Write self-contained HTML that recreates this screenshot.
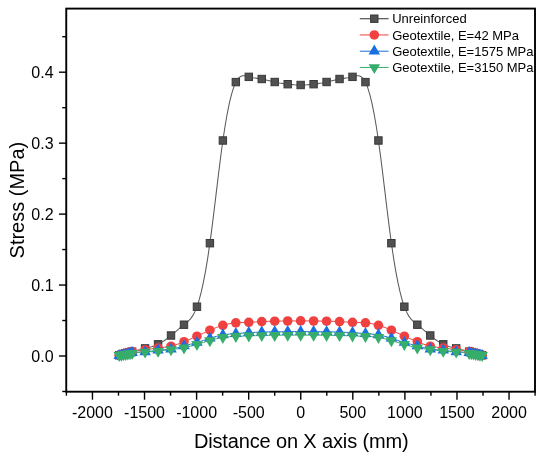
<!DOCTYPE html>
<html><head><meta charset="utf-8"><title>Stress vs Distance</title>
<style>
html,body{margin:0;padding:0;background:#fff;width:550px;height:459px;overflow:hidden}
svg{display:block}
text{font-family:"Liberation Sans",Arial,sans-serif;fill:#000}
.tk{font-size:16px}
.ti{font-size:20px}
.tx{letter-spacing:-0.14px}
.lg{font-size:13px}
</style></head><body>
<svg width="550" height="459" viewBox="0 0 550 459">
<rect width="550" height="459" fill="#fff"/>
<path d="M119.17,355.30 L120.26,355.00 L121.34,354.70 L122.42,354.40 L123.50,354.10 L124.58,353.80 L125.66,353.50 L126.74,353.20 L127.82,352.90 L128.90,352.60 L129.98,352.30 L131.06,352.00 L132.14,351.70 L134.30,351.11 L136.46,350.55 L138.62,349.99 L140.78,349.45 L142.94,348.92 L145.10,348.40 L147.26,347.88 L149.42,347.34 L151.58,346.74 L153.74,346.06 L155.90,345.26 L158.06,344.30 L160.22,343.17 L162.38,341.88 L164.54,340.45 L166.70,338.89 L168.86,337.24 L171.02,335.50 L173.19,333.71 L175.35,331.88 L177.51,330.04 L179.67,328.21 L181.83,326.42 L183.99,324.70 L186.15,323.01 L188.31,321.15 L190.47,318.85 L192.63,315.85 L194.79,311.89 L196.95,306.70 L199.11,300.06 L201.27,291.89 L203.43,282.16 L205.59,270.83 L207.75,257.85 L209.91,243.20 L212.07,226.93 L214.23,209.54 L216.39,191.61 L218.55,173.73 L220.71,156.50 L222.87,140.50 L225.04,126.23 L227.20,113.78 L229.36,103.14 L231.52,94.32 L233.68,87.31 L235.84,82.10 L238.00,78.64 L240.16,76.64 L242.32,75.79 L244.48,75.76 L246.64,76.23 L248.80,76.85 L250.96,77.37 L253.12,77.77 L255.28,78.09 L257.44,78.38 L259.60,78.67 L261.76,79.00 L263.92,79.41 L266.08,79.89 L268.24,80.41 L270.40,80.95 L272.56,81.49 L274.72,82.00 L276.89,82.47 L279.05,82.90 L281.21,83.28 L283.37,83.63 L285.53,83.93 L287.69,84.20 L289.85,84.43 L292.01,84.63 L294.17,84.79 L296.33,84.90 L298.49,84.98 L300.65,85.00 L302.81,84.98 L304.97,84.90 L307.13,84.79 L309.29,84.63 L311.45,84.43 L313.61,84.20 L315.77,83.93 L317.93,83.63 L320.09,83.28 L322.25,82.90 L324.41,82.47 L326.57,82.00 L328.74,81.49 L330.90,80.95 L333.06,80.41 L335.22,79.89 L337.38,79.41 L339.54,79.00 L341.70,78.67 L343.86,78.38 L346.02,78.09 L348.18,77.77 L350.34,77.37 L352.50,76.85 L354.66,76.23 L356.82,75.76 L358.98,75.79 L361.14,76.64 L363.30,78.64 L365.46,82.10 L367.62,87.31 L369.78,94.32 L371.94,103.14 L374.10,113.78 L376.26,126.23 L378.42,140.50 L380.59,156.50 L382.75,173.73 L384.91,191.61 L387.07,209.54 L389.23,226.93 L391.39,243.20 L393.55,257.85 L395.71,270.83 L397.87,282.16 L400.03,291.89 L402.19,300.06 L404.35,306.70 L406.51,311.89 L408.67,315.85 L410.83,318.85 L412.99,321.15 L415.15,323.01 L417.31,324.70 L419.47,326.42 L421.63,328.21 L423.79,330.04 L425.95,331.88 L428.11,333.71 L430.27,335.50 L432.44,337.24 L434.60,338.89 L436.76,340.45 L438.92,341.88 L441.08,343.17 L443.24,344.30 L445.40,345.26 L447.56,346.06 L449.72,346.74 L451.88,347.34 L454.04,347.88 L456.20,348.40 L458.36,348.92 L460.52,349.45 L462.68,349.99 L464.84,350.55 L467.00,351.11 L469.16,351.70 L470.24,352.00 L471.32,352.30 L472.40,352.60 L473.48,352.90 L474.56,353.20 L475.64,353.50 L476.72,353.80 L477.80,354.10 L478.88,354.40 L479.96,354.70 L481.04,355.00 L482.12,355.30" fill="none" stroke="#5a5a5a" stroke-width="1.05"/><path d="M119.17,355.30 L120.26,354.98 L121.34,354.67 L122.42,354.35 L123.50,354.03 L124.58,353.72 L125.66,353.40 L126.74,353.08 L127.82,352.77 L128.90,352.45 L129.98,352.13 L131.06,351.81 L132.14,351.50 L134.30,350.99 L136.46,350.61 L138.62,350.33 L140.78,350.11 L142.94,349.91 L145.10,349.70 L147.26,349.45 L149.42,349.17 L151.58,348.87 L153.74,348.57 L155.90,348.27 L158.06,348.00 L160.22,347.76 L162.38,347.53 L164.54,347.29 L166.70,347.00 L168.86,346.65 L171.02,346.20 L173.19,345.64 L175.35,344.98 L177.51,344.23 L179.67,343.42 L181.83,342.57 L183.99,341.70 L186.15,340.82 L188.31,339.93 L190.47,339.02 L192.63,338.10 L194.79,337.16 L196.95,336.20 L199.11,335.21 L201.27,334.20 L203.43,333.19 L205.59,332.17 L207.75,331.17 L209.91,330.20 L212.07,329.26 L214.23,328.36 L216.39,327.51 L218.55,326.71 L220.71,325.97 L222.87,325.30 L225.04,324.70 L227.20,324.17 L229.36,323.72 L231.52,323.34 L233.68,323.03 L235.84,322.80 L238.00,322.64 L240.16,322.53 L242.32,322.46 L244.48,322.41 L246.64,322.36 L248.80,322.30 L250.96,322.21 L253.12,322.10 L255.28,321.98 L257.44,321.85 L259.60,321.72 L261.76,321.60 L263.92,321.50 L266.08,321.42 L268.24,321.35 L270.40,321.29 L272.56,321.24 L274.72,321.20 L276.89,321.16 L279.05,321.12 L281.21,321.09 L283.37,321.06 L285.53,321.03 L287.69,321.00 L289.85,320.97 L292.01,320.95 L294.17,320.93 L296.33,320.91 L298.49,320.90 L300.65,320.90 L302.81,320.90 L304.97,320.91 L307.13,320.93 L309.29,320.95 L311.45,320.97 L313.61,321.00 L315.77,321.03 L317.93,321.06 L320.09,321.09 L322.25,321.12 L324.41,321.16 L326.57,321.20 L328.74,321.24 L330.90,321.29 L333.06,321.35 L335.22,321.42 L337.38,321.50 L339.54,321.60 L341.70,321.72 L343.86,321.85 L346.02,321.98 L348.18,322.10 L350.34,322.21 L352.50,322.30 L354.66,322.36 L356.82,322.41 L358.98,322.46 L361.14,322.53 L363.30,322.64 L365.46,322.80 L367.62,323.03 L369.78,323.34 L371.94,323.72 L374.10,324.17 L376.26,324.70 L378.42,325.30 L380.59,325.97 L382.75,326.71 L384.91,327.51 L387.07,328.36 L389.23,329.26 L391.39,330.20 L393.55,331.17 L395.71,332.17 L397.87,333.19 L400.03,334.20 L402.19,335.21 L404.35,336.20 L406.51,337.16 L408.67,338.10 L410.83,339.02 L412.99,339.93 L415.15,340.82 L417.31,341.70 L419.47,342.57 L421.63,343.42 L423.79,344.23 L425.95,344.98 L428.11,345.64 L430.27,346.20 L432.44,346.65 L434.60,347.00 L436.76,347.29 L438.92,347.53 L441.08,347.76 L443.24,348.00 L445.40,348.27 L447.56,348.57 L449.72,348.87 L451.88,349.17 L454.04,349.45 L456.20,349.70 L458.36,349.91 L460.52,350.11 L462.68,350.33 L464.84,350.61 L467.00,350.99 L469.16,351.50 L470.24,351.81 L471.32,352.13 L472.40,352.45 L473.48,352.77 L474.56,353.08 L475.64,353.40 L476.72,353.72 L477.80,354.03 L478.88,354.35 L479.96,354.67 L481.04,354.98 L482.12,355.30" fill="none" stroke="#F14040" stroke-width="1.0"/><path d="M119.17,355.60 L120.26,355.36 L121.34,355.12 L122.42,354.87 L123.50,354.63 L124.58,354.39 L125.66,354.15 L126.74,353.91 L127.82,353.67 L128.90,353.43 L129.98,353.18 L131.06,352.93 L132.14,352.70 L134.30,352.37 L136.46,352.18 L138.62,352.09 L140.78,352.05 L142.94,352.00 L145.10,351.90 L147.26,351.70 L149.42,351.43 L151.58,351.11 L153.74,350.78 L155.90,350.46 L158.06,350.20 L160.22,350.01 L162.38,349.86 L164.54,349.73 L166.70,349.58 L168.86,349.38 L171.02,349.10 L173.19,348.71 L175.35,348.23 L177.51,347.69 L179.67,347.10 L181.83,346.50 L183.99,345.90 L186.15,345.33 L188.31,344.78 L190.47,344.23 L192.63,343.68 L194.79,343.11 L196.95,342.50 L199.11,341.85 L201.27,341.16 L203.43,340.45 L205.59,339.73 L207.75,339.01 L209.91,338.30 L212.07,337.62 L214.23,336.96 L216.39,336.36 L218.55,335.81 L220.71,335.32 L222.87,334.90 L225.04,334.56 L227.20,334.29 L229.36,334.08 L231.52,333.90 L233.68,333.75 L235.84,333.60 L238.00,333.45 L240.16,333.29 L242.32,333.14 L244.48,332.99 L246.64,332.84 L248.80,332.70 L250.96,332.57 L253.12,332.46 L255.28,332.36 L257.44,332.26 L259.60,332.18 L261.76,332.10 L263.92,332.03 L266.08,331.97 L268.24,331.92 L270.40,331.87 L272.56,331.83 L274.72,331.80 L276.89,331.78 L279.05,331.76 L281.21,331.74 L283.37,331.73 L285.53,331.72 L287.69,331.70 L289.85,331.68 L292.01,331.66 L294.17,331.64 L296.33,331.62 L298.49,331.60 L300.65,331.60 L302.81,331.60 L304.97,331.62 L307.13,331.64 L309.29,331.66 L311.45,331.68 L313.61,331.70 L315.77,331.72 L317.93,331.73 L320.09,331.74 L322.25,331.76 L324.41,331.78 L326.57,331.80 L328.74,331.83 L330.90,331.87 L333.06,331.92 L335.22,331.97 L337.38,332.03 L339.54,332.10 L341.70,332.18 L343.86,332.26 L346.02,332.36 L348.18,332.46 L350.34,332.57 L352.50,332.70 L354.66,332.84 L356.82,332.99 L358.98,333.14 L361.14,333.29 L363.30,333.45 L365.46,333.60 L367.62,333.75 L369.78,333.90 L371.94,334.08 L374.10,334.29 L376.26,334.56 L378.42,334.90 L380.59,335.32 L382.75,335.81 L384.91,336.36 L387.07,336.96 L389.23,337.62 L391.39,338.30 L393.55,339.01 L395.71,339.73 L397.87,340.45 L400.03,341.16 L402.19,341.85 L404.35,342.50 L406.51,343.11 L408.67,343.68 L410.83,344.23 L412.99,344.78 L415.15,345.33 L417.31,345.90 L419.47,346.50 L421.63,347.10 L423.79,347.69 L425.95,348.23 L428.11,348.71 L430.27,349.10 L432.44,349.38 L434.60,349.58 L436.76,349.73 L438.92,349.86 L441.08,350.01 L443.24,350.20 L445.40,350.46 L447.56,350.78 L449.72,351.11 L451.88,351.43 L454.04,351.70 L456.20,351.90 L458.36,352.00 L460.52,352.05 L462.68,352.09 L464.84,352.18 L467.00,352.37 L469.16,352.70 L470.24,352.93 L471.32,353.18 L472.40,353.43 L473.48,353.67 L474.56,353.91 L475.64,354.15 L476.72,354.39 L477.80,354.63 L478.88,354.87 L479.96,355.12 L481.04,355.36 L482.12,355.60" fill="none" stroke="#1A6FDF" stroke-width="1.0"/><path d="M119.17,355.40 L120.26,355.23 L121.34,355.05 L122.42,354.87 L123.50,354.70 L124.58,354.53 L125.66,354.35 L126.74,354.17 L127.82,354.00 L128.90,353.83 L129.98,353.65 L131.06,353.47 L132.14,353.30 L134.30,352.99 L136.46,352.72 L138.62,352.49 L140.78,352.30 L142.94,352.14 L145.10,352.00 L147.26,351.88 L149.42,351.77 L151.58,351.65 L153.74,351.53 L155.90,351.38 L158.06,351.20 L160.22,350.98 L162.38,350.73 L164.54,350.45 L166.70,350.16 L168.86,349.88 L171.02,349.60 L173.19,349.34 L175.35,349.08 L177.51,348.82 L179.67,348.52 L181.83,348.19 L183.99,347.80 L186.15,347.34 L188.31,346.83 L190.47,346.26 L192.63,345.66 L194.79,345.04 L196.95,344.40 L199.11,343.76 L201.27,343.13 L203.43,342.49 L205.59,341.86 L207.75,341.23 L209.91,340.60 L212.07,339.97 L214.23,339.37 L216.39,338.79 L218.55,338.26 L220.71,337.79 L222.87,337.40 L225.04,337.10 L227.20,336.87 L229.36,336.70 L231.52,336.58 L233.68,336.48 L235.84,336.40 L238.00,336.32 L240.16,336.23 L242.32,336.15 L244.48,336.06 L246.64,335.98 L248.80,335.90 L250.96,335.82 L253.12,335.75 L255.28,335.68 L257.44,335.61 L259.60,335.55 L261.76,335.50 L263.92,335.45 L266.08,335.41 L268.24,335.38 L270.40,335.35 L272.56,335.32 L274.72,335.30 L276.89,335.28 L279.05,335.27 L281.21,335.25 L283.37,335.23 L285.53,335.22 L287.69,335.20 L289.85,335.18 L292.01,335.16 L294.17,335.13 L296.33,335.12 L298.49,335.10 L300.65,335.10 L302.81,335.10 L304.97,335.12 L307.13,335.13 L309.29,335.16 L311.45,335.18 L313.61,335.20 L315.77,335.22 L317.93,335.23 L320.09,335.25 L322.25,335.27 L324.41,335.28 L326.57,335.30 L328.74,335.32 L330.90,335.35 L333.06,335.38 L335.22,335.41 L337.38,335.45 L339.54,335.50 L341.70,335.55 L343.86,335.61 L346.02,335.68 L348.18,335.75 L350.34,335.82 L352.50,335.90 L354.66,335.98 L356.82,336.06 L358.98,336.15 L361.14,336.23 L363.30,336.32 L365.46,336.40 L367.62,336.48 L369.78,336.58 L371.94,336.70 L374.10,336.87 L376.26,337.10 L378.42,337.40 L380.59,337.79 L382.75,338.26 L384.91,338.79 L387.07,339.37 L389.23,339.97 L391.39,340.60 L393.55,341.23 L395.71,341.86 L397.87,342.49 L400.03,343.13 L402.19,343.76 L404.35,344.40 L406.51,345.04 L408.67,345.66 L410.83,346.26 L412.99,346.83 L415.15,347.34 L417.31,347.80 L419.47,348.19 L421.63,348.52 L423.79,348.82 L425.95,349.08 L428.11,349.34 L430.27,349.60 L432.44,349.88 L434.60,350.16 L436.76,350.45 L438.92,350.73 L441.08,350.98 L443.24,351.20 L445.40,351.38 L447.56,351.53 L449.72,351.65 L451.88,351.77 L454.04,351.88 L456.20,352.00 L458.36,352.14 L460.52,352.30 L462.68,352.49 L464.84,352.72 L467.00,352.99 L469.16,353.30 L470.24,353.47 L471.32,353.65 L472.40,353.83 L473.48,354.00 L474.56,354.17 L475.64,354.35 L476.72,354.53 L477.80,354.70 L478.88,354.87 L479.96,355.05 L481.04,355.23 L482.12,355.40" fill="none" stroke="#37AD6B" stroke-width="1.0"/>
<g fill="#515151" stroke="#383838" stroke-width="1"><rect x="115.47" y="351.60" width="7.4" height="7.4"/><rect x="117.64" y="351.00" width="7.4" height="7.4"/><rect x="119.80" y="350.40" width="7.4" height="7.4"/><rect x="121.96" y="349.80" width="7.4" height="7.4"/><rect x="124.12" y="349.20" width="7.4" height="7.4"/><rect x="126.28" y="348.60" width="7.4" height="7.4"/><rect x="128.44" y="348.00" width="7.4" height="7.4"/><rect x="141.40" y="344.70" width="7.4" height="7.4"/><rect x="154.36" y="340.60" width="7.4" height="7.4"/><rect x="167.32" y="331.80" width="7.4" height="7.4"/><rect x="180.29" y="321.00" width="7.4" height="7.4"/><rect x="193.25" y="303.00" width="7.4" height="7.4"/><rect x="206.21" y="239.50" width="7.4" height="7.4"/><rect x="219.17" y="136.80" width="7.4" height="7.4"/><rect x="232.14" y="78.40" width="7.4" height="7.4"/><rect x="245.10" y="73.15" width="7.4" height="7.4"/><rect x="258.06" y="75.30" width="7.4" height="7.4"/><rect x="271.02" y="78.30" width="7.4" height="7.4"/><rect x="283.99" y="80.50" width="7.4" height="7.4"/><rect x="296.95" y="81.30" width="7.4" height="7.4"/><rect x="309.91" y="80.50" width="7.4" height="7.4"/><rect x="322.88" y="78.30" width="7.4" height="7.4"/><rect x="335.84" y="75.30" width="7.4" height="7.4"/><rect x="348.80" y="73.15" width="7.4" height="7.4"/><rect x="361.76" y="78.40" width="7.4" height="7.4"/><rect x="374.72" y="136.80" width="7.4" height="7.4"/><rect x="387.69" y="239.50" width="7.4" height="7.4"/><rect x="400.65" y="303.00" width="7.4" height="7.4"/><rect x="413.61" y="321.00" width="7.4" height="7.4"/><rect x="426.57" y="331.80" width="7.4" height="7.4"/><rect x="439.54" y="340.60" width="7.4" height="7.4"/><rect x="452.50" y="344.70" width="7.4" height="7.4"/><rect x="465.46" y="348.00" width="7.4" height="7.4"/><rect x="467.62" y="348.60" width="7.4" height="7.4"/><rect x="469.78" y="349.20" width="7.4" height="7.4"/><rect x="471.94" y="349.80" width="7.4" height="7.4"/><rect x="474.10" y="350.40" width="7.4" height="7.4"/><rect x="476.26" y="351.00" width="7.4" height="7.4"/><rect x="478.43" y="351.60" width="7.4" height="7.4"/></g><g fill="#F14040"><circle cx="119.17" cy="355.30" r="4.8"/><circle cx="121.34" cy="354.67" r="4.8"/><circle cx="123.50" cy="354.03" r="4.8"/><circle cx="125.66" cy="353.40" r="4.8"/><circle cx="127.82" cy="352.77" r="4.8"/><circle cx="129.98" cy="352.13" r="4.8"/><circle cx="132.14" cy="351.50" r="4.8"/><circle cx="145.10" cy="349.70" r="4.8"/><circle cx="158.06" cy="348.00" r="4.8"/><circle cx="171.02" cy="346.20" r="4.8"/><circle cx="183.99" cy="341.70" r="4.8"/><circle cx="196.95" cy="336.20" r="4.8"/><circle cx="209.91" cy="330.20" r="4.8"/><circle cx="222.87" cy="325.30" r="4.8"/><circle cx="235.84" cy="322.80" r="4.8"/><circle cx="248.80" cy="322.30" r="4.8"/><circle cx="261.76" cy="321.60" r="4.8"/><circle cx="274.72" cy="321.20" r="4.8"/><circle cx="287.69" cy="321.00" r="4.8"/><circle cx="300.65" cy="320.90" r="4.8"/><circle cx="313.61" cy="321.00" r="4.8"/><circle cx="326.57" cy="321.20" r="4.8"/><circle cx="339.54" cy="321.60" r="4.8"/><circle cx="352.50" cy="322.30" r="4.8"/><circle cx="365.46" cy="322.80" r="4.8"/><circle cx="378.42" cy="325.30" r="4.8"/><circle cx="391.39" cy="330.20" r="4.8"/><circle cx="404.35" cy="336.20" r="4.8"/><circle cx="417.31" cy="341.70" r="4.8"/><circle cx="430.27" cy="346.20" r="4.8"/><circle cx="443.24" cy="348.00" r="4.8"/><circle cx="456.20" cy="349.70" r="4.8"/><circle cx="469.16" cy="351.50" r="4.8"/><circle cx="471.32" cy="352.13" r="4.8"/><circle cx="473.48" cy="352.77" r="4.8"/><circle cx="475.64" cy="353.40" r="4.8"/><circle cx="477.80" cy="354.03" r="4.8"/><circle cx="479.96" cy="354.67" r="4.8"/><circle cx="482.12" cy="355.30" r="4.8"/></g><g fill="#1A6FDF"><path d="M119.17,349.00 L124.92,358.90 L113.42,358.90Z"/><path d="M121.34,348.52 L127.09,358.42 L115.59,358.42Z"/><path d="M123.50,348.03 L129.25,357.93 L117.75,357.93Z"/><path d="M125.66,347.55 L131.41,357.45 L119.91,357.45Z"/><path d="M127.82,347.07 L133.57,356.97 L122.07,356.97Z"/><path d="M129.98,346.58 L135.73,356.48 L124.23,356.48Z"/><path d="M132.14,346.10 L137.89,356.00 L126.39,356.00Z"/><path d="M145.10,345.30 L150.85,355.20 L139.35,355.20Z"/><path d="M158.06,343.60 L163.81,353.50 L152.31,353.50Z"/><path d="M171.02,342.50 L176.77,352.40 L165.27,352.40Z"/><path d="M183.99,339.30 L189.74,349.20 L178.24,349.20Z"/><path d="M196.95,335.90 L202.70,345.80 L191.20,345.80Z"/><path d="M209.91,331.70 L215.66,341.60 L204.16,341.60Z"/><path d="M222.87,328.30 L228.62,338.20 L217.12,338.20Z"/><path d="M235.84,327.00 L241.59,336.90 L230.09,336.90Z"/><path d="M248.80,326.10 L254.55,336.00 L243.05,336.00Z"/><path d="M261.76,325.50 L267.51,335.40 L256.01,335.40Z"/><path d="M274.72,325.20 L280.47,335.10 L268.97,335.10Z"/><path d="M287.69,325.10 L293.44,335.00 L281.94,335.00Z"/><path d="M300.65,325.00 L306.40,334.90 L294.90,334.90Z"/><path d="M313.61,325.10 L319.36,335.00 L307.86,335.00Z"/><path d="M326.57,325.20 L332.32,335.10 L320.82,335.10Z"/><path d="M339.54,325.50 L345.29,335.40 L333.79,335.40Z"/><path d="M352.50,326.10 L358.25,336.00 L346.75,336.00Z"/><path d="M365.46,327.00 L371.21,336.90 L359.71,336.90Z"/><path d="M378.42,328.30 L384.17,338.20 L372.67,338.20Z"/><path d="M391.39,331.70 L397.14,341.60 L385.64,341.60Z"/><path d="M404.35,335.90 L410.10,345.80 L398.60,345.80Z"/><path d="M417.31,339.30 L423.06,349.20 L411.56,349.20Z"/><path d="M430.27,342.50 L436.02,352.40 L424.52,352.40Z"/><path d="M443.24,343.60 L448.99,353.50 L437.49,353.50Z"/><path d="M456.20,345.30 L461.95,355.20 L450.45,355.20Z"/><path d="M469.16,346.10 L474.91,356.00 L463.41,356.00Z"/><path d="M471.32,346.58 L477.07,356.48 L465.57,356.48Z"/><path d="M473.48,347.07 L479.23,356.97 L467.73,356.97Z"/><path d="M475.64,347.55 L481.39,357.45 L469.89,357.45Z"/><path d="M477.80,348.03 L483.55,357.93 L472.05,357.93Z"/><path d="M479.96,348.52 L485.71,358.42 L474.21,358.42Z"/><path d="M482.12,349.00 L487.88,358.90 L476.38,358.90Z"/></g><g fill="#37AD6B"><path d="M119.17,362.00 L124.92,352.10 L113.42,352.10Z"/><path d="M121.34,361.65 L127.09,351.75 L115.59,351.75Z"/><path d="M123.50,361.30 L129.25,351.40 L117.75,351.40Z"/><path d="M125.66,360.95 L131.41,351.05 L119.91,351.05Z"/><path d="M127.82,360.60 L133.57,350.70 L122.07,350.70Z"/><path d="M129.98,360.25 L135.73,350.35 L124.23,350.35Z"/><path d="M132.14,359.90 L137.89,350.00 L126.39,350.00Z"/><path d="M145.10,358.60 L150.85,348.70 L139.35,348.70Z"/><path d="M158.06,357.80 L163.81,347.90 L152.31,347.90Z"/><path d="M171.02,356.20 L176.77,346.30 L165.27,346.30Z"/><path d="M183.99,354.40 L189.74,344.50 L178.24,344.50Z"/><path d="M196.95,351.00 L202.70,341.10 L191.20,341.10Z"/><path d="M209.91,347.20 L215.66,337.30 L204.16,337.30Z"/><path d="M222.87,344.00 L228.62,334.10 L217.12,334.10Z"/><path d="M235.84,343.00 L241.59,333.10 L230.09,333.10Z"/><path d="M248.80,342.50 L254.55,332.60 L243.05,332.60Z"/><path d="M261.76,342.10 L267.51,332.20 L256.01,332.20Z"/><path d="M274.72,341.90 L280.47,332.00 L268.97,332.00Z"/><path d="M287.69,341.80 L293.44,331.90 L281.94,331.90Z"/><path d="M300.65,341.70 L306.40,331.80 L294.90,331.80Z"/><path d="M313.61,341.80 L319.36,331.90 L307.86,331.90Z"/><path d="M326.57,341.90 L332.32,332.00 L320.82,332.00Z"/><path d="M339.54,342.10 L345.29,332.20 L333.79,332.20Z"/><path d="M352.50,342.50 L358.25,332.60 L346.75,332.60Z"/><path d="M365.46,343.00 L371.21,333.10 L359.71,333.10Z"/><path d="M378.42,344.00 L384.17,334.10 L372.67,334.10Z"/><path d="M391.39,347.20 L397.14,337.30 L385.64,337.30Z"/><path d="M404.35,351.00 L410.10,341.10 L398.60,341.10Z"/><path d="M417.31,354.40 L423.06,344.50 L411.56,344.50Z"/><path d="M430.27,356.20 L436.02,346.30 L424.52,346.30Z"/><path d="M443.24,357.80 L448.99,347.90 L437.49,347.90Z"/><path d="M456.20,358.60 L461.95,348.70 L450.45,348.70Z"/><path d="M469.16,359.90 L474.91,350.00 L463.41,350.00Z"/><path d="M471.32,360.25 L477.07,350.35 L465.57,350.35Z"/><path d="M473.48,360.60 L479.23,350.70 L467.73,350.70Z"/><path d="M475.64,360.95 L481.39,351.05 L469.89,351.05Z"/><path d="M477.80,361.30 L483.55,351.40 L472.05,351.40Z"/><path d="M479.96,361.65 L485.71,351.75 L474.21,351.75Z"/><path d="M482.12,362.00 L487.88,352.10 L476.38,352.10Z"/></g>
<rect x="66.25" y="8.6" width="468.75" height="383.10" fill="none" stroke="#000" stroke-width="1.9"/><line x1="66.41" y1="391.7" x2="66.41" y2="395.7" stroke="#000" stroke-width="1.4"/><line x1="92.45" y1="391.7" x2="92.45" y2="399.7" stroke="#000" stroke-width="1.4"/><line x1="118.49" y1="391.7" x2="118.49" y2="395.7" stroke="#000" stroke-width="1.4"/><line x1="144.52" y1="391.7" x2="144.52" y2="399.7" stroke="#000" stroke-width="1.4"/><line x1="170.56" y1="391.7" x2="170.56" y2="395.7" stroke="#000" stroke-width="1.4"/><line x1="196.60" y1="391.7" x2="196.60" y2="399.7" stroke="#000" stroke-width="1.4"/><line x1="222.64" y1="391.7" x2="222.64" y2="395.7" stroke="#000" stroke-width="1.4"/><line x1="248.68" y1="391.7" x2="248.68" y2="399.7" stroke="#000" stroke-width="1.4"/><line x1="274.71" y1="391.7" x2="274.71" y2="395.7" stroke="#000" stroke-width="1.4"/><line x1="300.75" y1="391.7" x2="300.75" y2="399.7" stroke="#000" stroke-width="1.4"/><line x1="326.79" y1="391.7" x2="326.79" y2="395.7" stroke="#000" stroke-width="1.4"/><line x1="352.82" y1="391.7" x2="352.82" y2="399.7" stroke="#000" stroke-width="1.4"/><line x1="378.86" y1="391.7" x2="378.86" y2="395.7" stroke="#000" stroke-width="1.4"/><line x1="404.90" y1="391.7" x2="404.90" y2="399.7" stroke="#000" stroke-width="1.4"/><line x1="430.94" y1="391.7" x2="430.94" y2="395.7" stroke="#000" stroke-width="1.4"/><line x1="456.98" y1="391.7" x2="456.98" y2="399.7" stroke="#000" stroke-width="1.4"/><line x1="483.01" y1="391.7" x2="483.01" y2="395.7" stroke="#000" stroke-width="1.4"/><line x1="509.05" y1="391.7" x2="509.05" y2="399.7" stroke="#000" stroke-width="1.4"/><line x1="535.09" y1="391.7" x2="535.09" y2="395.7" stroke="#000" stroke-width="1.4"/><line x1="66.25" y1="391.48" x2="62.25" y2="391.48" stroke="#000" stroke-width="1.4"/><line x1="66.25" y1="356.00" x2="58.95" y2="356.00" stroke="#000" stroke-width="1.4"/><line x1="66.25" y1="320.52" x2="62.25" y2="320.52" stroke="#000" stroke-width="1.4"/><line x1="66.25" y1="285.05" x2="58.95" y2="285.05" stroke="#000" stroke-width="1.4"/><line x1="66.25" y1="249.57" x2="62.25" y2="249.57" stroke="#000" stroke-width="1.4"/><line x1="66.25" y1="214.10" x2="58.95" y2="214.10" stroke="#000" stroke-width="1.4"/><line x1="66.25" y1="178.62" x2="62.25" y2="178.62" stroke="#000" stroke-width="1.4"/><line x1="66.25" y1="143.15" x2="58.95" y2="143.15" stroke="#000" stroke-width="1.4"/><line x1="66.25" y1="107.67" x2="62.25" y2="107.67" stroke="#000" stroke-width="1.4"/><line x1="66.25" y1="72.20" x2="58.95" y2="72.20" stroke="#000" stroke-width="1.4"/><line x1="66.25" y1="36.72" x2="62.25" y2="36.72" stroke="#000" stroke-width="1.4"/>
<line x1="359.8" y1="18.7" x2="388.6" y2="18.7" stroke="#515151" stroke-width="1.2"/><rect x="370.6" y="15.0" width="7.4" height="7.4" fill="#515151" stroke="#383838" stroke-width="1"/><text x="392.2" y="23.3" class="lg">Unreinforced</text><line x1="359.8" y1="34.95" x2="388.6" y2="34.95" stroke="#F14040" stroke-width="1.0"/><circle cx="374.3" cy="34.95" r="4.8" fill="#F14040"/><text x="392.2" y="39.6" class="lg">Geotextile, E=42 MPa</text><line x1="359.8" y1="51.2" x2="388.6" y2="51.2" stroke="#1A6FDF" stroke-width="1.0"/><path d="M374.3,44.6 L380.05,54.5 L368.55,54.5Z" fill="#1A6FDF"/><text x="392.2" y="55.8" class="lg">Geotextile, E=1575 MPa</text><line x1="359.8" y1="67.45" x2="388.6" y2="67.45" stroke="#37AD6B" stroke-width="1.0"/><path d="M374.3,74.05 L380.05,64.15 L368.55,64.15Z" fill="#37AD6B"/><text x="392.2" y="72.0" class="lg">Geotextile, E=3150 MPa</text>
<text x="92.45" y="417.6" text-anchor="middle" class="tk">-2000</text><text x="144.52" y="417.6" text-anchor="middle" class="tk">-1500</text><text x="196.60" y="417.6" text-anchor="middle" class="tk">-1000</text><text x="248.68" y="417.6" text-anchor="middle" class="tk">-500</text><text x="300.75" y="417.6" text-anchor="middle" class="tk">0</text><text x="352.82" y="417.6" text-anchor="middle" class="tk">500</text><text x="404.90" y="417.6" text-anchor="middle" class="tk">1000</text><text x="456.98" y="417.6" text-anchor="middle" class="tk">1500</text><text x="509.05" y="417.6" text-anchor="middle" class="tk">2000</text><text x="53.6" y="361.60" text-anchor="end" class="tk">0.0</text><text x="53.6" y="290.65" text-anchor="end" class="tk">0.1</text><text x="53.6" y="219.70" text-anchor="end" class="tk">0.2</text><text x="53.6" y="148.75" text-anchor="end" class="tk">0.3</text><text x="53.6" y="77.80" text-anchor="end" class="tk">0.4</text><text x="301.2" y="447.8" text-anchor="middle" class="ti tx">Distance on X axis (mm)</text><text transform="translate(24.1,200.1) rotate(-90)" text-anchor="middle" class="ti">Stress (MPa)</text>
</svg>
</body></html>
